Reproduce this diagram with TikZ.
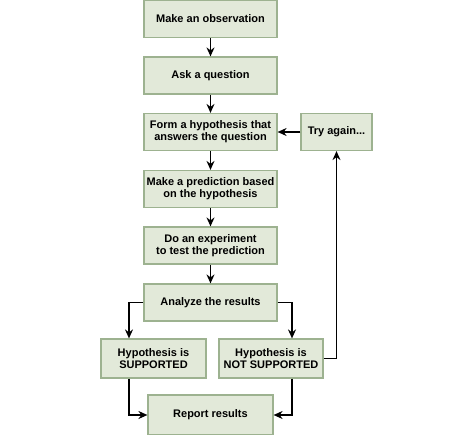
\documentclass[tikz,border=0pt]{standalone}
\usepackage{fontspec}
\setmainfont{Liberation Sans}
\usetikzlibrary{positioning, arrows.meta}
\definecolor{boxfill}{HTML}{E2E9D9}
\definecolor{boxline}{HTML}{9DB290}
\tikzset{
	stepbox/.style={draw=boxline, fill=boxfill, line width=1.2pt, rectangle, align=center,
		minimum width=133pt, minimum height=37pt, inner sep=2pt,
		font=\fontsize{11}{11.8}\selectfont\bfseries},
	arr/.style={-{Stealth[length=9pt, width=8pt, inset=3pt]}, line width=1.8pt, black},
}
\begin{document}
\begin{tikzpicture}[x=1pt, y=-1pt]
			\useasboundingbox (0,0) rectangle (474,434);
			\node [stepbox] (obs)  at (210.5,19)    {Make an observation};
			\node [stepbox] (ask)  at (210.5,75.5)  {Ask a question};
			\node [stepbox] (hyp)  at (210.5,132)   {Form a hypothesis that\\answers the question};
			\node [stepbox] (pred) at (210.5,189)   {Make a prediction based\\on the hypothesis};
			\node [stepbox] (exp)  at (210.5,245.5) {Do an experiment\\to test the prediction};
			\node [stepbox] (ana)  at (210.5,302.5) {Analyze the results};
			\node [stepbox, minimum width=71pt] (try) at (336.5,132) {Try again...};
			\node [stepbox, minimum width=105pt, minimum height=39pt] (yes) at (153.5,358.5) {Hypothesis is\\SUPPORTED};
			\node [stepbox, minimum width=104pt, minimum height=39pt] (no)  at (271,358.5)   {Hypothesis is\\NOT SUPPORTED};
			\node [stepbox, minimum width=125pt, minimum height=40pt] (rep) at (210.5,415) {Report results};

			\draw [arr] (obs) -- (ask);
			\draw [arr] (ask) -- (hyp);
			\draw [arr] (hyp) -- (pred);
			\draw [arr] (pred) -- (exp);
			\draw [arr] (exp) -- (ana);
			\draw [arr] (try) -- (hyp);

			\draw [arr] (ana.west) -| ([xshift=-24.5pt]yes.north);
			\draw [arr] (ana.east) -| ([xshift=21pt]no.north);
			\draw [arr] ([xshift=-24.5pt]yes.south) |- (rep.west);
			\draw [arr] ([xshift=21pt]no.south) |- (rep.east);
			\draw [arr] (no.east) -| (try.south);
		\end{tikzpicture}
\end{document}
